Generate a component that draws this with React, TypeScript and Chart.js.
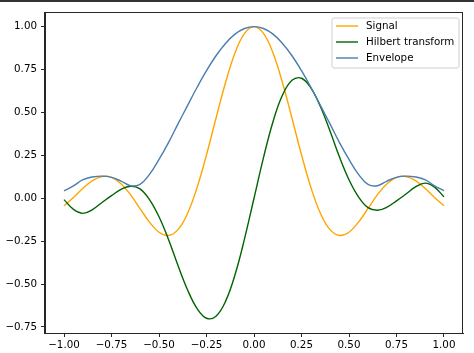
import React, { useEffect, useRef } from "react";
import { Chart, registerables } from "chart.js";

Chart.register(...registerables);

const T = [-1.0, -0.95, -0.9, -0.85, -0.8, -0.75, -0.7, -0.65, -0.6, -0.55, -0.5, -0.45, -0.4, -0.35, -0.3, -0.25, -0.2, -0.15, -0.1, -0.05, 0.0, 0.05, 0.1, 0.15, 0.2, 0.25, 0.3, 0.35, 0.4, 0.45, 0.5, 0.55, 0.6, 0.65, 0.7, 0.75, 0.8, 0.85, 0.9, 0.95, 1.0];

const SIGNAL = [-0.044, 0.005, 0.058, 0.103, 0.127, 0.122, 0.085, 0.021, -0.06, -0.139, -0.198, -0.217, -0.183, -0.089, 0.061, 0.253, 0.466, 0.673, 0.846, 0.96, 1.0, 0.96, 0.846, 0.673, 0.466, 0.253, 0.061, -0.089, -0.183, -0.217, -0.198, -0.139, -0.06, 0.021, 0.085, 0.122, 0.127, 0.103, 0.058, 0.005, -0.044];

const HILBERT = [-0.008, -0.065, -0.088, -0.066, -0.025, 0.015, 0.052, 0.07, 0.055, -0.008, -0.108, -0.24, -0.392, -0.533, -0.642, -0.699, -0.687, -0.601, -0.446, -0.237, 0.0, 0.237, 0.446, 0.601, 0.687, 0.699, 0.642, 0.533, 0.392, 0.24, 0.108, 0.008, -0.055, -0.07, -0.052, -0.015, 0.025, 0.066, 0.088, 0.065, 0.008];

const ENVELOPE = [0.043, 0.072, 0.108, 0.124, 0.129, 0.122, 0.1, 0.073, 0.081, 0.139, 0.226, 0.324, 0.433, 0.54, 0.645, 0.743, 0.83, 0.902, 0.956, 0.989, 1.0, 0.989, 0.956, 0.902, 0.83, 0.743, 0.645, 0.54, 0.433, 0.324, 0.226, 0.139, 0.081, 0.073, 0.1, 0.122, 0.129, 0.124, 0.108, 0.072, 0.045];

const X_TICKS = [-1.0, -0.75, -0.5, -0.25, 0.0, 0.25, 0.5, 0.75, 1.0];
const Y_TICKS = [-0.75, -0.5, -0.25, 0.0, 0.25, 0.5, 0.75, 1.0];

const SERIES_NAMES = ["Signal", "Hilbert transform", "Envelope"];
const COLORS = ["#ffa500", "#006400", "#4a7db0"];

const FONT = { family: "'DejaVu Sans', sans-serif", size: 10.3 };
const fmt = (v: number) => v.toFixed(2).replace("-", "\u2212");

const framePlugin = {
  id: "frameAndLegend",
  afterDraw(chart: any) {
    const { ctx, chartArea } = chart;
    const { left, right, top, bottom } = chartArea;
    ctx.save();
    ctx.strokeStyle = "#262626";
    ctx.lineWidth = 1;
    ctx.strokeRect(Math.round(left) - 0.5, Math.round(top) + 0.5, Math.round(right - left), Math.round(bottom - top));

    // legend box
    const bx = right - 131;
    const by = top + 6;
    const bw = 127;
    const bh = 50;
    ctx.fillStyle = "rgba(255,255,255,0.85)";
    ctx.strokeStyle = "#d0d0d0";
    ctx.beginPath();
    const r = 2;
    ctx.moveTo(bx + r, by);
    ctx.lineTo(bx + bw - r, by);
    ctx.quadraticCurveTo(bx + bw, by, bx + bw, by + r);
    ctx.lineTo(bx + bw, by + bh - r);
    ctx.quadraticCurveTo(bx + bw, by + bh, bx + bw - r, by + bh);
    ctx.lineTo(bx + r, by + bh);
    ctx.quadraticCurveTo(bx, by + bh, bx, by + bh - r);
    ctx.lineTo(bx, by + r);
    ctx.quadraticCurveTo(bx, by, bx + r, by);
    ctx.closePath();
    ctx.fill();
    ctx.stroke();

    ctx.font = `${FONT.size}px ${FONT.family}`;
    ctx.textBaseline = "middle";
    ctx.textAlign = "left";
    SERIES_NAMES.forEach((name, i) => {
      const y = by + 8 + i * 16;
      ctx.strokeStyle = COLORS[i];
      ctx.lineWidth = 1.4;
      ctx.beginPath();
      ctx.moveTo(bx + 4, y);
      ctx.lineTo(bx + 26, y);
      ctx.stroke();
      ctx.fillStyle = "#000";
      ctx.fillText(name, bx + 34, y + 0.5);
    });
    ctx.restore();
  },
};

export default function App() {
  const ref = useRef<HTMLCanvasElement>(null);
  useEffect(() => {
    if (!ref.current) return;
    const series = [SIGNAL, HILBERT, ENVELOPE];
    const chart = new Chart(ref.current, {
      type: "line",
      data: {
        datasets: series.map((vals, i) => ({
          label: SERIES_NAMES[i],
          data: T.map((t, j) => ({ x: t, y: vals[j] })),
          borderColor: COLORS[i],
          backgroundColor: COLORS[i],
          borderWidth: 1.4,
          pointRadius: 0,
          tension: 0.4,
          fill: false,
          order: 2 - i,
        })),
      },
      options: {
        animation: false,
        responsive: false,
        devicePixelRatio: 1,
        layout: { padding: { left: 0, right: 11, top: 12, bottom: 0 } },
        plugins: { legend: { display: false }, tooltip: { enabled: false } },
        scales: {
          x: {
            type: "linear",
            min: -1.1,
            max: 1.1,
            afterBuildTicks: (s: any) => {
              s.ticks = X_TICKS.map((v) => ({ value: v }));
            },
            afterFit: (s: any) => {
              s.height = 20;
            },
            grid: { drawOnChartArea: false, drawTicks: true, tickLength: 4, color: "#262626" },
            border: { display: true, color: "#262626" },
            ticks: { font: FONT, color: "#000", padding: 2, maxRotation: 0, autoSkip: false, callback: (v: any) => fmt(Number(v)) },
          },
          y: {
            type: "linear",
            min: -0.785,
            max: 1.085,
            afterBuildTicks: (s: any) => {
              s.ticks = Y_TICKS.map((v) => ({ value: v }));
            },
            afterFit: (s: any) => {
              s.width = 45;
            },
            grid: { drawOnChartArea: false, drawTicks: true, tickLength: 4, color: "#262626" },
            border: { display: true, color: "#262626" },
            ticks: { font: FONT, color: "#000", padding: 4, autoSkip: false, callback: (v: any) => fmt(Number(v)) },
          },
        },
      },
      plugins: [framePlugin],
    });
    return () => chart.destroy();
  }, []);
  return (
    <div style={{ position: "fixed", left: 0, top: 0, width: 474, height: 353, background: "#fff" }}>
      <canvas ref={ref} width={474} height={353} style={{ display: "block", width: 474, height: 353 }} />
      <div style={{ position: "absolute", left: 0, top: 0, width: 474, height: 2, background: "#333" }} />
    </div>
  );
}
